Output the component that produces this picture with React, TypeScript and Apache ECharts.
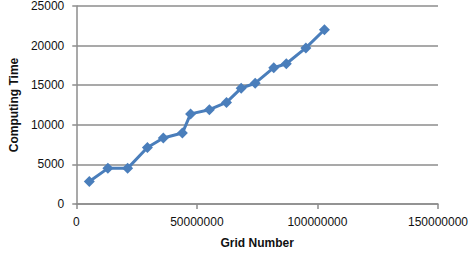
import React, { useEffect, useRef } from "react";
import * as echarts from "echarts";

const gridNumber = [5400000, 13100000, 21300000, 29500000, 36100000, 44000000, 47400000, 55200000, 62300000, 68400000, 74200000, 81900000, 87100000, 95200000, 102900000];
const computingTime = [2840, 4500, 4500, 7125, 8340, 8960, 11375, 11910, 12830, 14625, 15250, 17210, 17710, 19710, 22000];

export default function App() {
  const ref = useRef<HTMLDivElement>(null);
  useEffect(() => {
    if (!ref.current) return;
    const chart = echarts.init(ref.current, undefined, { renderer: "svg" });
    const font = "'Liberation Sans', Arial, sans-serif";
    chart.setOption({
      animation: false,
      backgroundColor: "#ffffff",
      grid: { left: 69, right: 36, top: 6, bottom: 48 },
      xAxis: {
        type: "value",
        min: 0,
        max: 150000000,
        interval: 50000000,
        name: "Grid Number",
        nameLocation: "middle",
        nameGap: 33,
        nameTextStyle: { fontFamily: font, fontSize: 12, fontWeight: "bold", color: "#111" },
        axisLine: { show: true, lineStyle: { color: "#8c8c8c", width: 1.5 } },
        axisTick: { show: true, length: 5, lineStyle: { color: "#8c8c8c", width: 1.5 } },
        splitLine: { show: false },
        axisLabel: { margin: 12, fontFamily: font, fontSize: 12, color: "#111", formatter: (v: number) => String(v) },
      },
      yAxis: {
        type: "value",
        min: 0,
        max: 25000,
        interval: 5000,
        name: "Computing Time",
        nameLocation: "middle",
        nameGap: 55,
        nameRotate: 90,
        nameTextStyle: { fontFamily: font, fontSize: 12, fontWeight: "bold", color: "#111" },
        axisLine: { show: true, lineStyle: { color: "#8c8c8c", width: 1.5 } },
        axisTick: { show: true, length: 4, lineStyle: { color: "#8c8c8c", width: 1.5 } },
        splitLine: { show: true, lineStyle: { color: "#8c8c8c", width: 1.5 } },
        axisLabel: { margin: 12, fontFamily: font, fontSize: 12, color: "#111", formatter: (v: number) => String(v) },
      },
      series: [
        {
          type: "line",
          data: gridNumber.map((x, i) => [x, computingTime[i]]),
          symbol: "diamond",
          symbolSize: 11,
          lineStyle: { color: "#4a7ebb", width: 3 },
          itemStyle: { color: "#4a7ebb" },
        },
      ],
    });
    return () => chart.dispose();
  }, []);
  return <div ref={ref} style={{ width: 474, height: 254, position: "absolute", left: 0, top: 0 }} />;
}
